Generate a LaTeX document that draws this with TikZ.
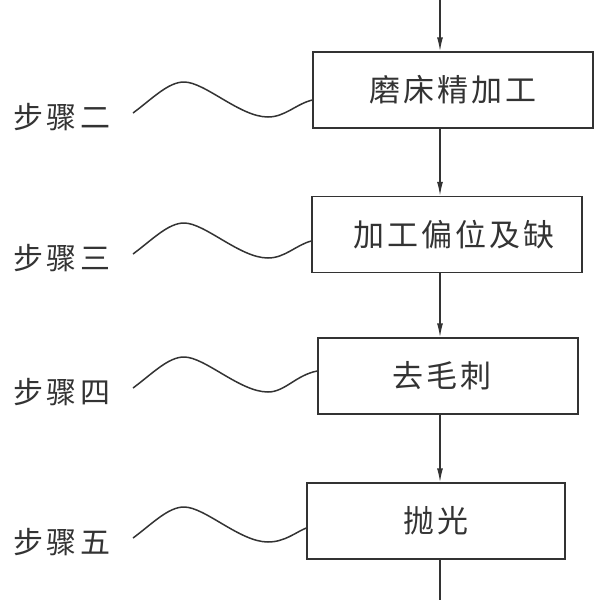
\documentclass[tikz,border=0pt]{standalone}
\usepackage{fontspec}
\newfontfamily\cjk{Noto Sans CJK SC}
\usetikzlibrary{arrows.meta,calc}
\begin{document}
\begin{tikzpicture}[x=1pt,y=-1pt,
  ink/.style={draw=black!80, line width=1.4pt},
  stepbox/.style={ink, rectangle, inner sep=0pt, minimum height=76pt,
    font=\cjk\fontsize{31}{34}\selectfont, text=black!80},
  steplabel/.style={inner sep=0pt, font=\cjk\fontsize{30}{34}\selectfont, text=black!80},
  flow/.style={ink, -{Latex[length=14pt,width=6pt]}},
  wave/.style={ink, line width=1.5pt}]
\useasboundingbox (0,0) rectangle (600,600);
% boxes
\node[stepbox, minimum width=280pt] (b1) at (453,90)
  {\raisebox{-3pt}{磨\hspace{3pt}床\hspace{3pt}精\hspace{3pt}加\hspace{3pt}工}};
\node[stepbox, minimum width=270pt] (b2) at (447,234.5)
  {\hspace{14pt}\raisebox{-3pt}{加\hspace{3pt}工\hspace{3pt}偏\hspace{3pt}位\hspace{3pt}及\hspace{3pt}缺}};
\node[stepbox, minimum width=260pt] (b3) at (448,376)
  {\hspace{-12pt}\raisebox{-5pt}{去\hspace{3pt}毛\hspace{3pt}刺}};
\node[stepbox, minimum width=258pt] (b4) at (436,521)
  {\raisebox{-4pt}{抛\hspace{3pt}光}};
% labels
\node[steplabel] (l2) at (62,117) {步\hspace{4pt}骤\hspace{4pt}二};
\node[steplabel] (l3) at (62,258) {步\hspace{4pt}骤\hspace{4pt}三};
\node[steplabel] (l4) at (62,392) {步\hspace{4pt}骤\hspace{4pt}四};
\node[steplabel] (l5) at (62,542) {步\hspace{4pt}骤\hspace{4pt}五};
% flow line
\coordinate (top) at (440,0);
\coordinate (bot) at (440,600);
\draw[flow] (top) -- (top |- b1.north);
\draw[flow] (b1.south -| top) -- (b2.north -| top);
\draw[flow] (b2.south -| top) -- (b3.north -| top);
\draw[flow] (b3.south -| top) -- (b4.north -| top);
\draw[ink] (b4.south -| top) -- (bot);
% waves
\foreach \b/\L/\E in {b1/117/100, b2/258/241, b3/392/371, b4/542/528} {
  \draw[wave] (133,\L-4) .. controls (152,\L-18) and (168,\L-35) .. (184,\L-35)
    .. controls (205,\L-35) and (240,\L) .. (268,\L)
    .. controls (285,\L) and (296,\E+4) .. (\b.west |- 0,\E);
}
\end{tikzpicture}
\end{document}
